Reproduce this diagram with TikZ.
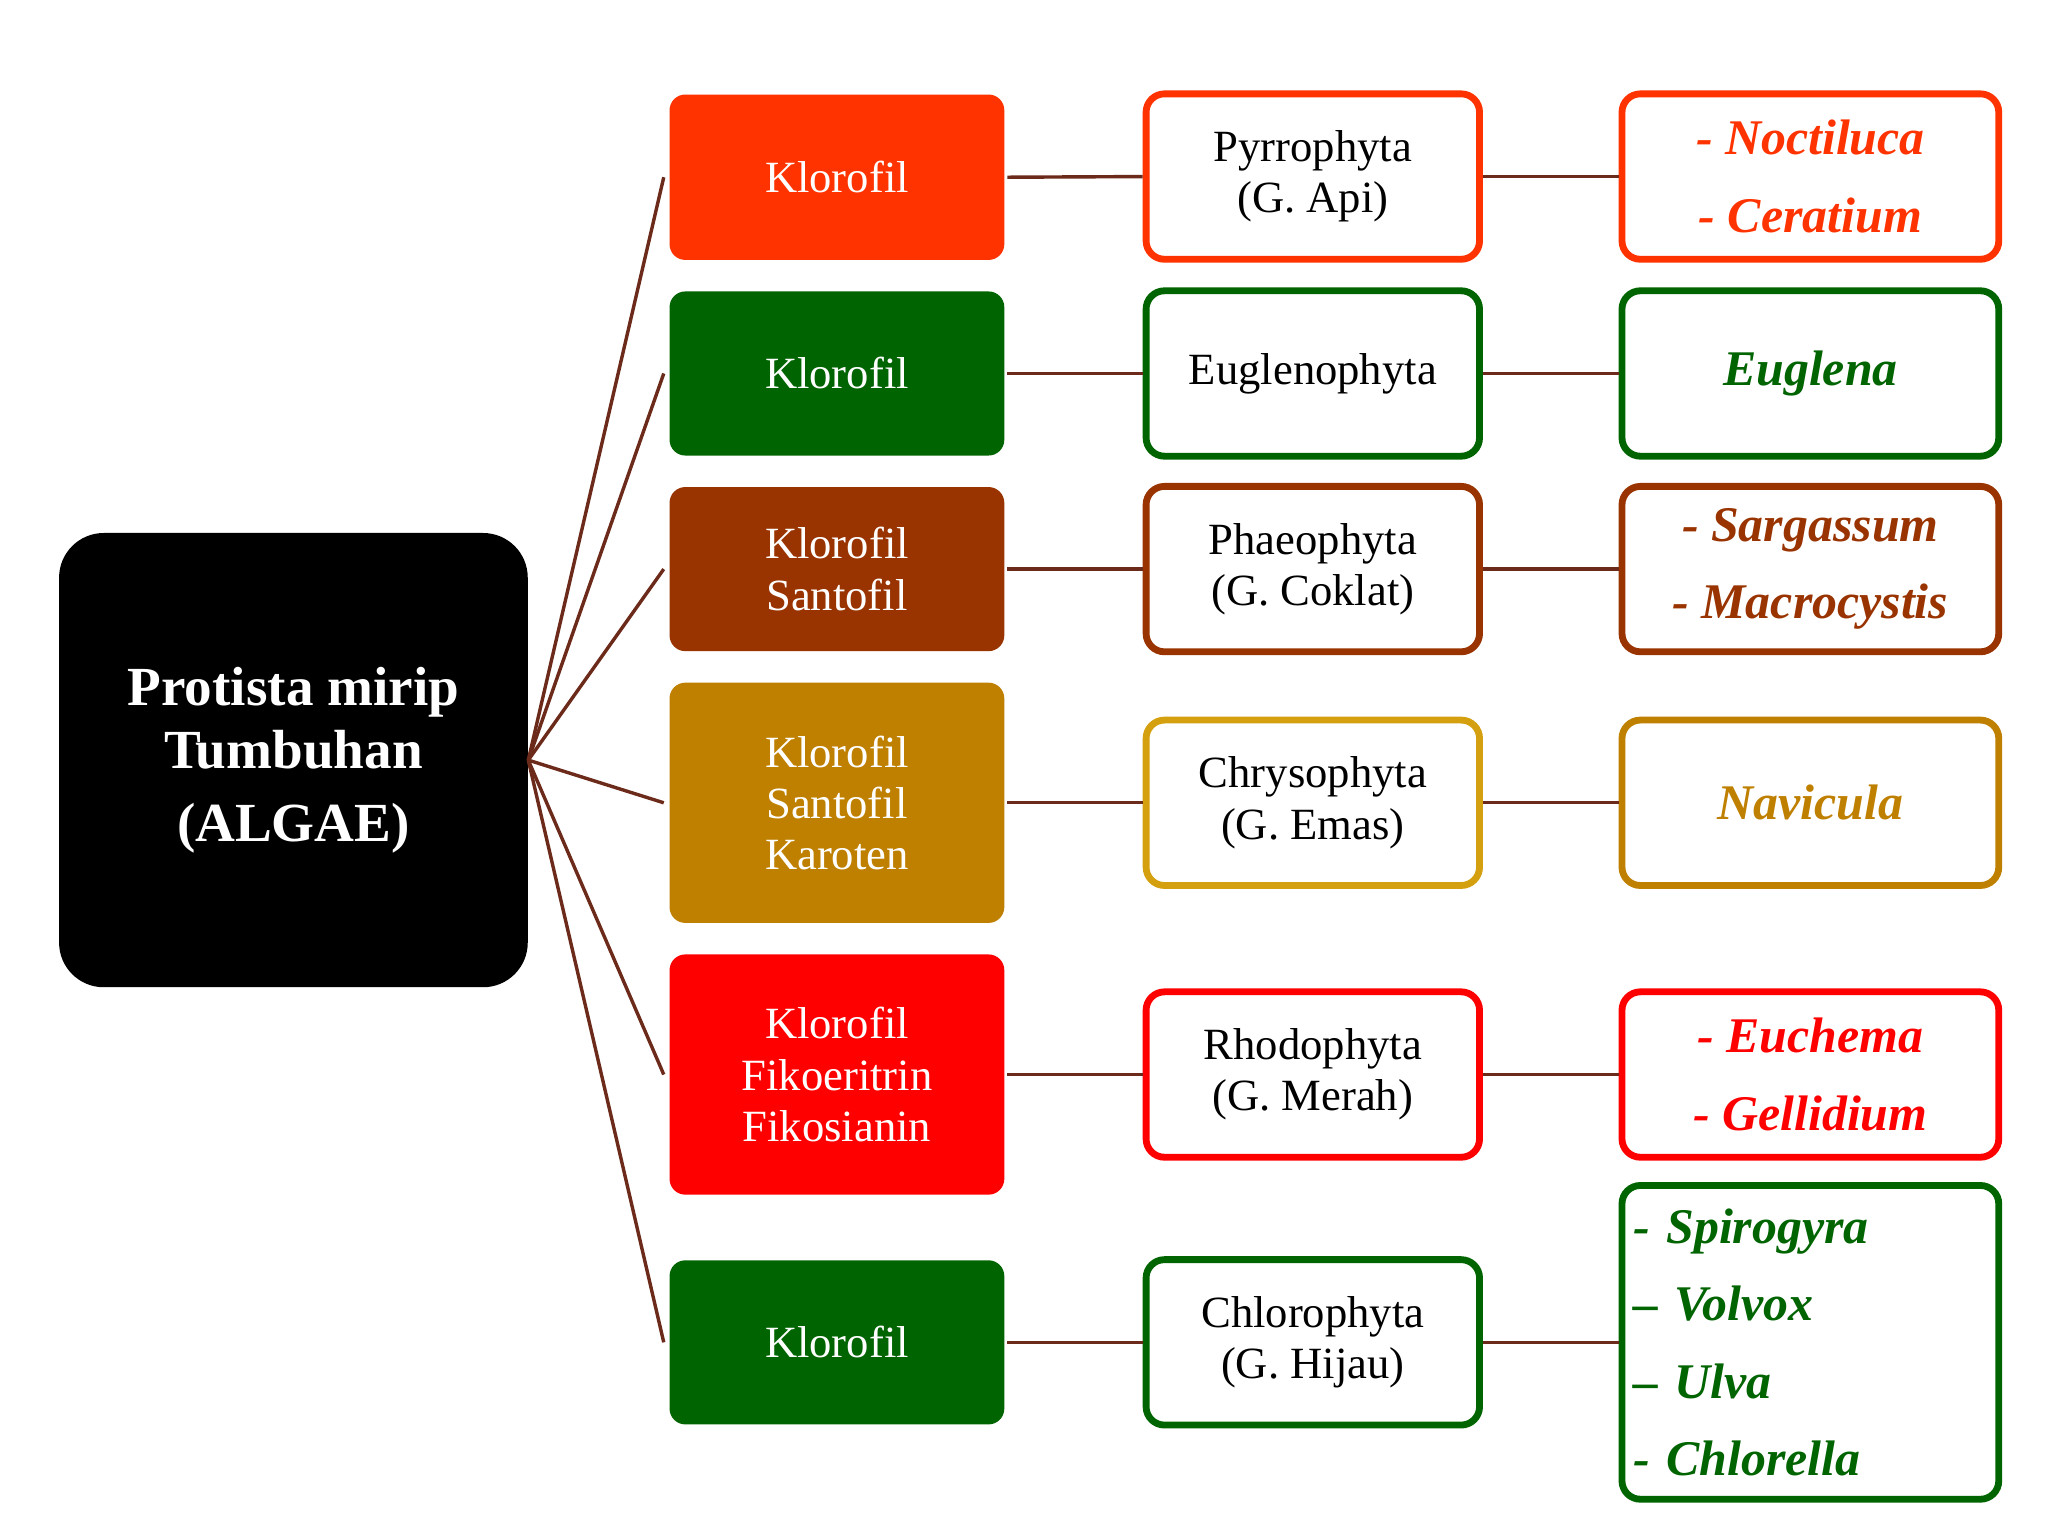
\documentclass[tikz,border=0pt]{standalone}
\usepackage{fontspec}
\setmainfont{Liberation Serif}
\definecolor{cA}{HTML}{FF3300}
\definecolor{cB}{HTML}{006400}
\definecolor{cC}{HTML}{993300}
\definecolor{cD}{HTML}{BF8000}
\definecolor{cDD}{HTML}{D4A010}
\definecolor{cE}{HTML}{FF0000}
\definecolor{ln}{HTML}{6B2A1A}
\begin{document}
\begin{tikzpicture}[x=0.5pt,y=-0.5pt,
 pig/.style={fill=#1,text=white,rounded corners=6pt,minimum width=127.5pt,align=center,font=\fontsize{17}{19.5}\selectfont,inner sep=0pt},
 div/.style={draw=#1,line width=2.6pt,fill=white,rounded corners=7pt,minimum width=127pt,minimum height=63pt,align=center,font=\fontsize{17}{19.5}\selectfont,inner sep=0pt},
 gen/.style={draw=#1,text=#1,line width=2.6pt,fill=white,rounded corners=7pt,minimum width=143.5pt,minimum height=63pt,align=center,font=\fontsize{19}{29.5}\selectfont\bfseries\itshape,inner sep=0pt},
 con/.style={draw=ln,line width=1.3pt}]
\useasboundingbox (0,0) rectangle (1560,1170);
\node[fill=black,text=white,rounded corners=17pt,minimum width=178.5pt,minimum height=173pt,align=center,font=\fontsize{21}{24}\selectfont\bfseries] (root) at (223.5,579) {Protista mirip\\Tumbuhan\\[4pt](ALGAE)};
\node[pig=cA,minimum height=63pt] (k1) at (637.5,135) {Klorofil};
\node[pig=cB,minimum height=62.5pt] (k2) at (637.5,284.5) {Klorofil};
\node[pig=cC,minimum height=62.5pt] (k3) at (637.5,433.5) {Klorofil\\Santofil};
\node[pig=cD,minimum height=91.5pt] (k4) at (637.5,611.5) {Klorofil\\Santofil\\Karoten};
\node[pig=cE,minimum height=91.5pt] (k5) at (637.5,818.5) {Klorofil\\Fikoeritrin\\Fikosianin};
\node[pig=cB,minimum height=62.5pt] (k6) at (637.5,1022.5) {Klorofil};
\node[div=cA] (d1) at (1000,134.5) {Pyrrophyta\\(G. Api)};
\node[div=cB] (d2) at (1000,284.5) {Euglenophyta};
\node[div=cC] (d3) at (1000,433.5) {Phaeophyta\\(G. Coklat)};
\node[div=cDD] (d4) at (1000,611.5) {Chrysophyta\\(G. Emas)};
\node[div=cE] (d5) at (1000,818.5) {Rhodophyta\\(G. Merah)};
\node[div=cB] (d6) at (1000,1022.5) {Chlorophyta\\(G. Hijau)};
\node[gen=cA] (g1) at (1379,134.5) {- Noctiluca\\- Ceratium};
\node[gen=cB] (g2) at (1379,284.5) {Euglena};
\node[gen=cC] (g3) at (1379,433.5) {- Sargassum\\- Macrocystis};
\node[gen=cD] (g4) at (1379,611.5) {Navicula};
\node[gen=cE] (g5) at (1379,818.5) {- Euchema\\- Gellidium};
\node[gen=cB,minimum height=119.5pt,align=left,text width=135pt] (g6) at (1379,1022.5) {- Spirogyra\\– Volvox\\– Ulva\\- Chlorella};
\foreach \i in {1,...,6}{
 \draw[con] (root.east) -- ([xshift=-2pt]k\i.west);
 \draw[con] ([xshift=1pt]k\i.east) -- (d\i.west);
 \draw[con] (d\i.east) -- (g\i.west);
}
\end{tikzpicture}
\end{document}
